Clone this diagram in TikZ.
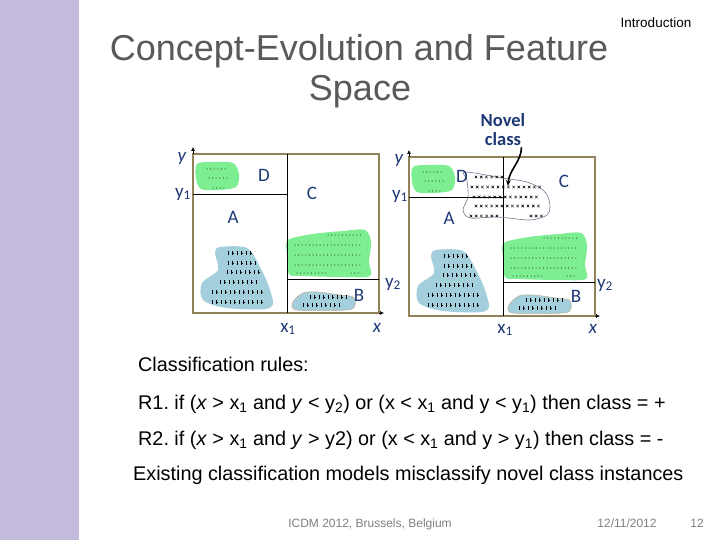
\documentclass[tikz,border=0pt]{standalone}
\usepackage{fontspec}
\setmainfont{Liberation Sans}
\newfontfamily\calfont{Carlito}
\usetikzlibrary{arrows.meta}
\frenchspacing
\definecolor{band}{RGB}{196,186,220}
\definecolor{framecol}{RGB}{145,130,90}
\definecolor{navy}{RGB}{31,56,118}
\definecolor{greenblob}{RGB}{125,238,145}
\definecolor{blueblob}{RGB}{163,207,220}
\definecolor{titlegray}{RGB}{89,89,89}
\definecolor{footgray}{RGB}{128,128,128}

\begin{document}
\begin{tikzpicture}[x=1pt,y=-1pt,
  lbl/.style={text=navy,font=\calfont\fontsize{19}{19}\selectfont,inner sep=0pt},
  rule/.style={anchor=base west,inner sep=0pt,font=\fontsize{19.8}{21}\selectfont},
  foot/.style={anchor=base,inner sep=0pt,text=footgray,font=\fontsize{12}{12}\selectfont},
  tick/.style={line width=0.5pt},
  axis/.style={-{Latex[length=4pt,width=4pt]},line width=0.6pt}]
  \useasboundingbox (0,0) rectangle (720,540);
  \fill[white] (0,0) rectangle (720,540);
  \fill[band] (0,0) rectangle (79,540);

  \node[anchor=base,inner sep=0pt,text=titlegray,font=\fontsize{36}{38}\selectfont] (title1) at (359,61) {Concept-Evolution and Feature};
  \node[anchor=base,inner sep=0pt,text=titlegray,font=\fontsize{36}{38}\selectfont] (title2) at (360,101) {Space};
  \node[inner sep=0pt,font=\fontsize{13.5}{14}\selectfont] (intro) at (656,23) {Introduction};

  % the two feature spaces
  \foreach \ox/\oy in {193/154,409/157}{
    \begin{scope}[shift={(\ox,\oy)}]
      \fill[greenblob] plot[smooth cycle] coordinates {(4,10) (20,8) (40,9) (46,20) (43,33) (25,36) (8,35) (3,25)};
      \fill[greenblob] plot[smooth cycle,tension=0.5] coordinates {(95,86) (120,80) (150,77) (172,76) (178,88) (176,108) (177,122) (150,123) (110,122) (96,120) (94,100)};
      \fill[blueblob] plot[smooth cycle] coordinates {(27,93) (54,94) (67,113) (77,136) (77,154) (34,154) (10,146) (9,129) (25,116) (22,99)};
      \filldraw[fill=blueblob,draw=framecol!60,line width=0.6pt] plot[smooth cycle] coordinates {(100,148) (110,139) (124,138) (147,141) (160,143) (162,151) (154,156) (104,156)};
      \foreach \py/\px/\n in {15/14/5,24/16/5,34/20/3,81/135/9,91/102/18,101/102/18,111/102/18,119/104/8,119/158/2}
        \foreach \i in {0,...,\n} \fill (\px+\i*3.6,\py) circle (0.5);
      \foreach \py/\px/\n in {99/35/5,109/35/6,118/34/7,128/27/8,138/19/11,148/19/11,143/117/8,151/110/8}
        \foreach \i in {0,...,\n} \draw[tick] (\px+\i*4.5,\py-1.8) -- ++(0,3.6) (\px+\i*4.5,\py) -- ++(0.9,0);
      \draw[framecol,line width=2.8pt] (0,0) rectangle (186,159);
      \draw (94,0) -- (94,159);
      \draw (0,40) -- (94,40);
      \draw (94,125) -- (186,125);
      \draw[axis] (0,0) -- (0,-7);
      \draw[axis] (186,159) -- (191,159);
    \end{scope}
  }

  % novel class instances
  \begin{scope}[shift={(409,157)}]
    \draw[draw={rgb,255:red,110;green,125;blue,145},line width=0.6pt] plot[smooth cycle] coordinates {(56,15) (94,21) (118,25) (134,33) (139,40) (141,50) (138,58) (121,63) (88,60) (61,61) (54,53) (59,40) (58,23)};
    \foreach \py/\px/\n in {20/67/5,30/63/13,40/65/12,49/67/12,59/62/5,59/122/2}
      \foreach \i in {0,...,\n} \draw[line width=0.45pt] (\px+\i*5.2-1.3,\py-1.3) -- ++(2.6,2.6) ++(-2.6,0) -- ++(2.6,-2.6);
  \end{scope}

  \node[lbl] (yL) at (182,158) {\textit{y}};
  \node[lbl] (y1L) at (183,194) {y\textsubscript{1}};
  \node[lbl] (DL) at (264,175) {D};
  \node[lbl] (CL) at (312,193) {C};
  \node[lbl] (AL) at (233,217) {A};
  \node[lbl] (BL) at (359,295) {B};
  \node[lbl] (y2L) at (393,284) {y\textsubscript{2}};
  \node[lbl] (x1L) at (288,329) {x\textsubscript{1}};
  \node[lbl] (xL) at (377,328) {\textit{x}};

  \node[lbl] (yR) at (399,160) {\textit{y}};
  \node[lbl] (y1R) at (400,196) {y\textsubscript{1}};
  \node[lbl] (DR) at (462,176) {D};
  \node[lbl] (CR) at (564,181) {C};
  \node[lbl] (AR) at (449,218) {A};
  \node[lbl] (BR) at (576,296) {B};
  \node[lbl] (y2R) at (605,285) {y\textsubscript{2}};
  \node[lbl] (x1R) at (505,330) {x\textsubscript{1}};
  \node[lbl] (xR) at (593,329) {\textit{x}};

  \node[text=navy,align=center,inner sep=0pt,font=\calfont\bfseries\fontsize{18.5}{19}\selectfont] (novel) at (503,130) {Novel\\class};
  \coordinate (novelpt) at (508,186);
  \draw[line width=1.6pt,-{Stealth[length=6pt,width=5pt]}] ([xshift=-4pt,yshift=-1pt]novel.south east) .. controls +(0,14) and +(1,-16) .. (novelpt);

  \node[rule] (rules) at (138,371) {Classification rules:};
  \node[rule] (r1) at (138,409) {R1. if (\textit{x} > x\textsubscript{1} and \textit{y} < y\textsubscript{2}) or (x < x\textsubscript{1} and y < y\textsubscript{1}) then class = +};
  \node[rule] (r2) at (138,445) {R2. if (\textit{x} > x\textsubscript{1} and \textit{y} > y2) or (x < x\textsubscript{1} and y > y\textsubscript{1}) then class = -};
  \node[rule] (exist) at (133,480) {Existing classification models misclassify novel class instances};

  \node[foot] (conf) at (370,527) {ICDM 2012, Brussels, Belgium};
  \node[foot] (date) at (627,527) {12/11/2012};
  \node[foot] (page) at (697,527) {12};
\end{tikzpicture}
\end{document}
